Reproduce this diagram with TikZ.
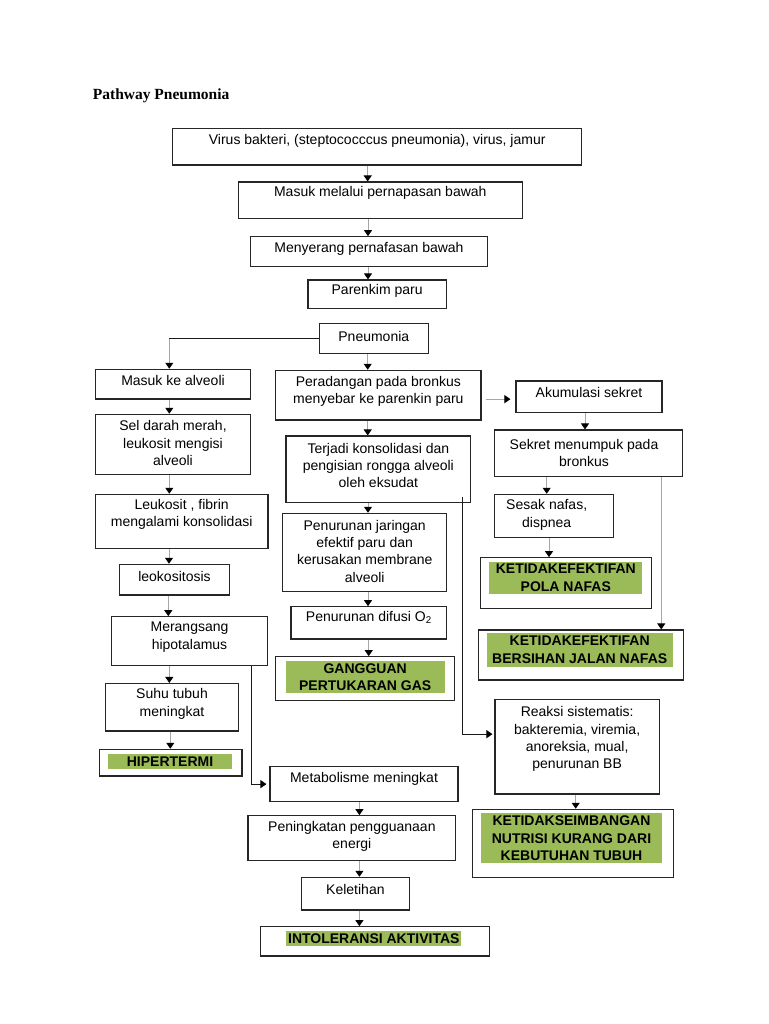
\documentclass[tikz,border=0pt]{standalone}
\usepackage{fontspec}
\setmainfont{Liberation Sans}
\newfontfamily\titlefont{Liberation Serif}
\usetikzlibrary{arrows.meta}

\definecolor{diaggreen}{RGB}{155,187,89}

\tikzset{
    box/.style={draw=black!85, line width=1.1pt, inner sep=0pt},
    txt/.style={align=center, inner sep=0pt, font=\fontsize{14}{17.3}\selectfont},
    diagtxt/.style={align=center, inner sep=0pt, font=\fontsize{14}{17.8}\selectfont\bfseries},
    arr/.style={draw=black!35, line width=1pt, -{Triangle[width=8pt,length=6pt,color=black]}},
    link/.style={draw=black!90, line width=1pt},
    linkarr/.style={link, -{Triangle[width=8pt,length=6pt,color=black]}}
}

% box from corner to corner, in picture pixels
\newcommand{\outerbox}[5]{%
    \node[box, minimum width={#4-#2}, minimum height={#5-#3}] (#1) at ({(#2+#4)/2},{(#3+#5)/2}) {};
}
\newcommand{\flowbox}[8][0]{%
    \outerbox{#2}{#3}{#4}{#5}{#6}
    \node[txt, xshift=#1] (#2-t) at ({(#3+#5)/2},#7) {#8};
}
\newcommand{\greenbox}[6]{%
    \fill[diaggreen] (#2,#3) rectangle (#4,#5);
    \node[diagtxt] (#1) at ({(#2+#4)/2},{(#3+#5)/2}) {#6};
}
\newcommand{\flowdown}[3]{\draw[arr] (#3,0 |- #1.south) -- (#3,0 |- #2.north);}

\begin{document}
\begin{tikzpicture}[x=1pt, y=-1pt]
    \useasboundingbox (0,0) rectangle (768,1024);

    \node[anchor=west, inner sep=0pt, font=\titlefont\fontsize{15.5}{18}\selectfont\bfseries] (title) at (92.7,96) {Pathway Pneumonia};

    % main trunk
    \flowbox{virus}{172.7}{128.7}{581.7}{165}{141}{Virus bakteri, (steptococccus pneumonia), virus, jamur}
    \flowbox{masuk}{238.3}{182}{522.3}{218.3}{193}{Masuk melalui pernapasan bawah}
    \flowbox{menyerang}{250.3}{236.7}{487.7}{266.7}{248.7}{Menyerang pernafasan bawah}
    \flowbox{parenkim}{308}{280}{446.3}{308.7}{291}{Parenkim paru}
    \flowbox{pneu}{319.3}{323.7}{428.3}{353.3}{336}{Pneumonia}

    % left column
    \flowbox{alveoli}{95.3}{369.3}{250.7}{399}{380.7}{Masuk ke alveoli}
    \flowbox{darah}{95.3}{414.3}{250.7}{474.3}{443.2}{Sel darah merah,\\leukosit mengisi\\alveoli}
    \flowbox{fibrin}{95.3}{494.3}{268}{548.3}{514.7}{Leukosit , fibrin\\mengalami konsolidasi}
    \flowbox{leoko}{119.3}{564.3}{229.7}{595}{576}{leokositosis}
    \flowbox{hipot}{111.3}{616.7}{267.7}{665.3}{637.2}{Merangsang\\hipotalamus}
    \flowbox{suhu}{105.5}{683.5}{238.5}{731}{704}{Suhu tubuh\\meningkat}
    \outerbox{hiperbox}{99.3}{749.3}{242}{776}
    \greenbox{hiper}{108}{754}{232}{769}{HIPERTERMI}

    % middle column
    \flowbox{perad}{275.7}{370.3}{481}{420}{391.3}{Peradangan pada bronkus\\menyebar ke parenkin paru}
    \flowbox{konsol}{286}{436}{470.7}{502.7}{465.3}{Terjadi konsolidasi dan\\pengisian rongga alveoli\\oleh eksudat}
    \flowbox{jaringan}{282.7}{513.3}{446.7}{591.3}{551.3}{Penurunan jaringan\\efektif paru dan\\kerusakan membrane\\alveoli}
    \flowbox{difusi}{291}{606.7}{446.7}{639}{617.7}{Penurunan difusi O\textsubscript{2}}
    \outerbox{gasbox}{275.7}{656.7}{454.7}{700.7}
    \greenbox{gas}{285.7}{661}{444.7}{693.3}{GANGGUAN\\PERTUKARAN GAS}

    % right column
    \flowbox{akum}{516}{381}{662}{412.7}{392.7}{Akumulasi sekret}
    \flowbox[-4.7]{sekret}{494.7}{430}{682.7}{476.7}{453.3}{Sekret menumpuk pada\\bronkus}
    \flowbox[-7.3]{sesak}{494.7}{494.3}{613.3}{537.7}{514.8}{Sesak nafas,\\dispnea}
    \outerbox{polabox}{480.7}{557.7}{651.7}{608.3}
    \greenbox{pola}{489.3}{561.7}{642.3}{594.3}{KETIDAKEFEKTIFAN\\POLA NAFAS}
    \outerbox{jalanbox}{478.3}{630}{683.3}{680}
    \greenbox{jalan}{486.7}{633.3}{672.7}{666.7}{KETIDAKEFEKTIFAN\\BERSIHAN JALAN NAFAS}
    \flowbox{reaksi}{495}{699.3}{659.3}{794}{739.2}{Reaksi sistematis:\\bakteremia, viremia,\\anoreksia, mual,\\penurunan BB}
    \outerbox{nutrisibox}{472.3}{809.3}{673.3}{877.7}
    \greenbox{nutrisi}{480.7}{813.3}{662.3}{863.3}{KETIDAKSEIMBANGAN\\NUTRISI KURANG DARI\\KEBUTUHAN TUBUH}

    % bottom column
    \flowbox{metab}{270}{766.7}{458}{801.5}{778.5}{Metabolisme meningkat}
    \flowbox{energi}{248}{815.7}{455.8}{860.7}{836.5}{Peningkatan pengguanaan\\energi}
    \flowbox{lelah}{301.4}{877.3}{409.4}{910}{889}{Keletihan}
    \outerbox{intolbox}{260.2}{926.7}{489.1}{956}
    \greenbox{intol}{286.3}{930.7}{461.3}{945.7}{INTOLERANSI AKTIVITAS}

    % arrows
    \flowdown{virus}{masuk}{367.7}
    \flowdown{masuk}{menyerang}{368}
    \flowdown{menyerang}{parenkim}{368}
    \flowdown{pneu}{perad}{367.7}
    \flowdown{alveoli}{darah}{169.3}
    \flowdown{darah}{fibrin}{169.3}
    \flowdown{fibrin}{leoko}{169}
    \flowdown{leoko}{hipot}{168.3}
    \flowdown{hipot}{suhu}{169.3}
    \flowdown{suhu}{hiperbox}{170.3}
    \flowdown{perad}{konsol}{367.7}
    \flowdown{konsol}{jaringan}{368}
    \flowdown{jaringan}{difusi}{368}
    \flowdown{difusi}{gasbox}{368.7}
    \flowdown{akum}{sekret}{585}
    \flowdown{sekret}{sesak}{546.7}
    \flowdown{sesak}{polabox}{549}
    \flowdown{reaksi}{nutrisibox}{575.7}
    \flowdown{metab}{energi}{359.4}
    \flowdown{energi}{lelah}{359.4}
    \flowdown{lelah}{intolbox}{359.4}

    % branches
    \coordinate (alvtop) at ([xshift=-3.7pt]alveoli.north);
    \draw[link] (pneu.west) -- (pneu.west -| alvtop);
    \draw[arr] (pneu.west -| alvtop) -- (alvtop);
    \coordinate (peradout) at ([xshift=4pt,yshift=-4pt]perad.east);
    \draw[arr, shorten >=5pt] (peradout) -- (peradout -| akum.west);
    \coordinate (sekdrop) at ([xshift=-22pt]sekret.south east);
    \draw[arr] (sekdrop) -- (sekdrop |- jalanbox.north);
    \coordinate (hipdrop) at ([xshift=-17pt]hipot.south east);
    \draw[linkarr, shorten >=3pt] (hipdrop) |- (metab.west);
    \coordinate (konsdrop) at ([xshift=-9pt,yshift=6pt]konsol.south east);
    \draw[linkarr, shorten >=2pt] (konsdrop) |- ([yshift=12.5pt]reaksi.west);
\end{tikzpicture}
\end{document}
